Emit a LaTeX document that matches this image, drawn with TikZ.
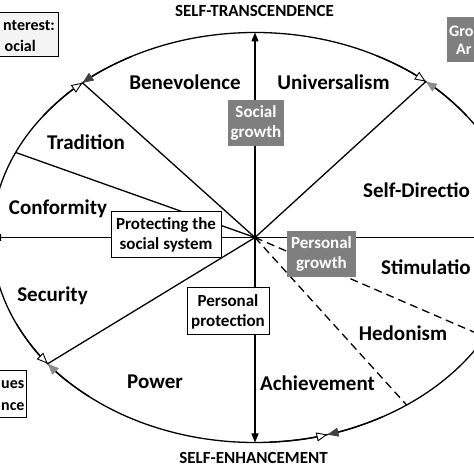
\documentclass[tikz,border=0pt]{standalone}
\usepackage{fontspec}
\setmainfont{Carlito}
\usetikzlibrary{arrows.meta,calc}
\definecolor{boxgray}{HTML}{7F7F7F}
\definecolor{arrdark}{HTML}{404040}
\definecolor{arrgray}{HTML}{8C8C8C}
\definecolor{lightbox}{HTML}{F4F4F4}
\begin{document}
\begin{tikzpicture}[x=1pt,y=1pt,
  line/.style={line width=1.3pt},
  dashline/.style={line width=1.3pt, dash pattern=on 8pt off 5pt},
  val/.style={font=\fontsize{21}{25}\selectfont\bfseries, inner sep=0pt},
  axislbl/.style={font=\fontsize{17}{20}\selectfont\bfseries, inner sep=0pt},
  boxtxt/.style={font=\fontsize{16}{19}\selectfont\bfseries, inner sep=0pt},
  graybox/.style={fill=boxgray, text=white, font=\fontsize{17}{20}\selectfont\bfseries, align=center, inner sep=0pt},
  whitebox/.style={draw=black, line width=1pt, fill=white, font=\fontsize{17}{20}\selectfont\bfseries, align=center, inner sep=0pt},
  axisarrow/.style={-{Triangle[length=9pt,width=7pt]}},
  tipdark/.style={line width=1.3pt, -{Triangle[length=11pt,width=9pt,line width=0.8pt,fill=arrdark,color=arrdark]}},
  tipgray/.style={line width=1.3pt, -{Triangle[length=11pt,width=9pt,line width=0.8pt,fill=arrgray,color=arrgray]}},
  tipopen/.style={line width=1.3pt, -{Triangle[length=11pt,width=9pt,line width=0.9pt,fill=white]}}
]
\useasboundingbox (0,0) rectangle (474,474);
\clip (0,0) rectangle (474,474);

\coordinate (C) at (255,236.5);
\coordinate (TOP) at ($(C)+(90:263 and 205)$);
\coordinate (BOT) at ($(C)+(270:263 and 205)$);
\coordinate (LEFT) at ($(C)+(180:263 and 205)$);
\coordinate (RIGHT) at ($(C)+(0:263 and 205)$);
\coordinate (UL) at ($(C)+(131:263 and 205)$);
\coordinate (UR) at ($(C)+(49.5:263 and 205)$);
\coordinate (LL) at ($(C)+(218:263 and 205)$);
\coordinate (TC) at ($(C)+(155.5:263 and 205)$);
\coordinate (D1) at ($(C)+(331:263 and 205)$);
\coordinate (D2) at ($(C)+(305.2:263 and 205)$);

% ellipse
\draw[line] (C) ellipse [x radius=263, y radius=205];

% radial lines
\draw[line] (C) -- (UL);
\draw[line] (C) -- (UR);
\draw[line] (C) -- (LL);
\draw[line] (C) -- (TC);
\draw[line, axisarrow] (C) -- (TOP);
\draw[line, axisarrow] (C) -- (BOT);
\draw[line, axisarrow] (C) -- (LEFT);
\draw[line, axisarrow] (C) -- (RIGHT);
\draw[dashline] (C) -- (D1);
\draw[dashline] (C) -- (D2);

% arrowheads on the ellipse
\begin{scope}[shift={(C)}]
\draw[tipdark] (118:263 and 205) arc[start angle=118, end angle=131, x radius=263, y radius=205];
\draw[tipopen] (144:263 and 205) arc[start angle=144, end angle=131, x radius=263, y radius=205];
\draw[tipopen] (62.5:263 and 205) arc[start angle=62.5, end angle=49.5, x radius=263, y radius=205];
\draw[tipgray] (36.5:263 and 205) arc[start angle=36.5, end angle=49.5, x radius=263, y radius=205];
\draw[tipopen] (205:263 and 205) arc[start angle=205, end angle=218, x radius=263, y radius=205];
\draw[tipgray] (231:263 and 205) arc[start angle=231, end angle=218, x radius=263, y radius=205];
\draw[tipopen] (273:263 and 205) arc[start angle=273, end angle=286, x radius=263, y radius=205];
\draw[tipdark] (299:263 and 205) arc[start angle=299, end angle=286, x radius=263, y radius=205];
\end{scope}

% axis labels
\node[axislbl, anchor=base] (st) at (254.5,457) {SELF-TRANSCENDENCE};
\node[axislbl, anchor=base] (se) at (253.5,10) {SELF-ENHANCEMENT};

% value labels
\node[val, anchor=base] (ben) at (185,384) {Benevolence};
\node[val, anchor=base] (uni) at (333.5,384) {Universalism};
\node[val, anchor=base] (tra) at (86,324) {Tradition};
\node[val, anchor=base west] (sd) at (363,276) {Self-Directio};
\node[val, anchor=base] (con) at (58,259) {Conformity};
\node[val, anchor=base west] (sti) at (381,199) {Stimulatio};
\node[val, anchor=base] (sec) at (52.5,172) {Security};
\node[val, anchor=base] (hed) at (403,133) {Hedonism};
\node[val, anchor=base west] (pow) at (127,85) {Power};
\node[val, anchor=base west] (ach) at (260,83) {Achievement};

% boxes
\node[graybox, minimum width=56pt, minimum height=46pt] (sg) at (256,351) {Social\\growth};
\node[graybox, minimum width=69pt, minimum height=46pt] (pg) at (321.5,220) {Personal\\growth};
\node[whitebox, minimum width=110pt, minimum height=46pt] (pss) at (166,239) {Protecting the\\social system};
\node[whitebox, minimum width=82pt, minimum height=47pt] (pp) at (228,162.5) {Personal\\protection};

% partial boxes at the edges
\draw[line width=1pt, fill=lightbox] (-20,461) rectangle (58,417);
\node[boxtxt, anchor=base east] (fi1) at (55,443) {nterest:};
\node[boxtxt, anchor=base east] (fi2) at (36,422) {ocial};

\fill[boxgray] (447,457) rectangle (490,412);
\node[boxtxt, text=white, anchor=base west] (ga1) at (449,437) {Gro};
\node[boxtxt, text=white, anchor=base west] (ga2) at (456,419) {Ar};

\draw[line width=1pt, fill=white] (-20,103) rectangle (26,56);
\node[boxtxt, anchor=base west] (vd1) at (1,85) {ues};
\node[boxtxt, anchor=base west] (vd2) at (1,63) {nce};
\end{tikzpicture}
\end{document}
